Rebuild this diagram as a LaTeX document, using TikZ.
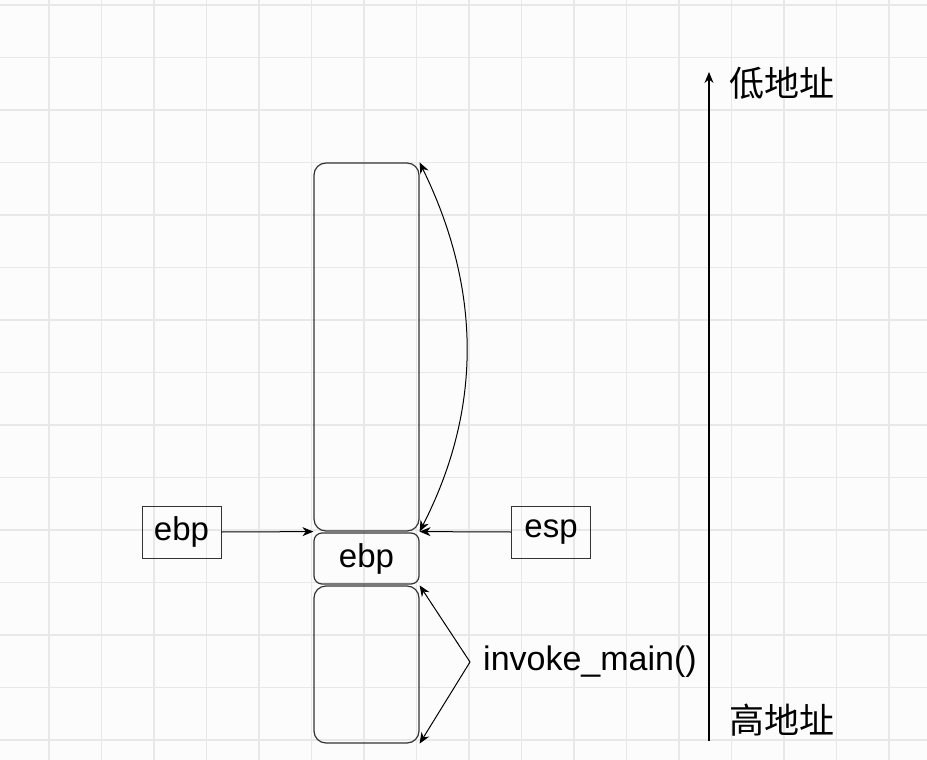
\documentclass[tikz,border=0pt]{standalone}
\usepackage{fontspec}
\setmainfont{Liberation Sans}
\newfontfamily\cjk{Noto Sans CJK SC}
\usetikzlibrary{arrows.meta}
\begin{document}
\begin{tikzpicture}[x=1pt,y=-1pt,
  cell/.style={draw=black!80,line width=1.2pt,rounded corners=12pt},
  lbl/.style={draw=black!80,line width=1pt,minimum width=79pt,minimum height=52pt,inner sep=0pt,font=\fontsize{33}{38}\selectfont},
  conn/.style={line width=1pt,-{Stealth[length=11pt,width=9pt]}},
  txt/.style={inner sep=0pt,font=\fontsize{34}{40}\selectfont}]
\useasboundingbox (0,0) rectangle (927,760);
\fill[white!99!black] (0,0) rectangle (927,760);
\foreach \i in {0,...,17} {\draw[black!9,line width=1.2pt] ({49+52.5*\i},0) -- ({49+52.5*\i},760);}
\foreach \i in {0,...,14} {\draw[black!9,line width=1.2pt] (0,{5+52.5*\i}) -- (927,{5+52.5*\i});}
\node[cell,minimum width=105pt,minimum height=368pt,inner sep=0pt] (big) at (366.5,347) {};
\node[cell,rounded corners=8pt,minimum width=105pt,minimum height=51pt,inner sep=0pt,font=\fontsize{33}{38}\selectfont] (ebpc) at (366.5,558.5) {ebp};
\node[cell,minimum width=105pt,minimum height=157pt,inner sep=0pt] (low) at (366.5,664.5) {};
\node[lbl] (ebpl) at (181.5,532) {ebp};
\node[lbl] (esp) at (551,532) {esp};
\draw[conn] (ebpl.east) -- (big.south west);
\draw[conn] (esp.west) -- (big.south east);
\draw[line width=1pt,{Stealth[length=11pt,width=9pt]}-{Stealth[length=11pt,width=9pt]}] (big.north east) .. controls (482,290) and (482,410) .. (big.south east);
\coordinate (v) at (470,662);
\node[txt,anchor=west] (inv) at (483,662) {invoke\_main()};
\draw[conn] (v) -- (low.north east);
\draw[conn] (v) -- (low.south east);
\coordinate (ab) at (709,741);
\coordinate (at) at (709,72);
\draw[line width=1.2pt,-{Stealth[length=11pt,width=9pt]}] (ab) -- (at);
\node[txt,anchor=west,font=\cjk\fontsize{35}{40}\selectfont] (lo) at (729,83) {低地址};
\node[txt,anchor=west,font=\cjk\fontsize{35}{40}\selectfont] (hi) at (729,720) {高地址};
\end{tikzpicture}
\end{document}
